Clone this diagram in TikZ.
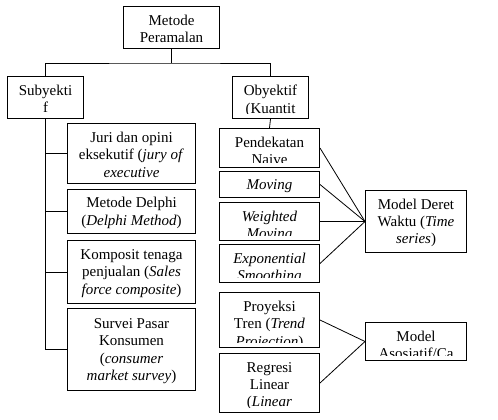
\documentclass[tikz,border=0pt]{standalone}
\usepackage{fontspec}
\setmainfont{Liberation Serif}
\usetikzlibrary{calc}
\tikzset{
 box/.style={draw, line width=1pt, inner sep=0pt, anchor=north west},
 txt/.style={align=center, inner sep=0pt, font=\fontsize{15}{17.3}\selectfont},
 conn/.style={line width=0.8pt},
}
\newcommand{\mkbox}[5]{\node[box, minimum width={(#4)-(#2)}, minimum height={(#5)-(#3)}] (#1) at (#2,#3) {};}
\newcommand{\ctext}[2]{\node[txt] at ([yshift=-1.5pt]#1.center) {#2};}
\newcommand{\ttext}[2]{\begin{scope}\clip ([xshift=1pt,yshift=6pt]#1.south west) rectangle ([xshift=-1pt,yshift=-1pt]#1.north east); \node[txt,anchor=north] at ([yshift=-9pt]#1.north) {#2};\end{scope}}
\begin{document}
\begin{tikzpicture}[x=1pt,y=-1pt]
\useasboundingbox (0,0) rectangle (498,420);
% boxes
\mkbox{top}{123}{6}{219}{48}
\ctext{top}{Metode\\Peramalan}
\mkbox{sub}{7}{76}{83}{118}
\ctext{sub}{Subyekti\\f}
\mkbox{oby}{232}{76}{308}{118}
\ttext{oby}{Obyektif\\(Kuantit}
% subjective
\mkbox{juri}{67}{123}{195}{183}
\ttext{juri}{Juri dan opini\\eksekutif (\textit{jury of}\\\textit{executive}}
\mkbox{delphi}{67}{189}{195}{233}
\ctext{delphi}{Metode Delphi\\(\textit{Delphi Method})}
\mkbox{komp}{67}{240}{195}{303}
\ctext{komp}{Komposit tenaga\\penjualan (\textit{Sales}\\\textit{force composite})}
\mkbox{surv}{67}{308}{195}{390}
\ctext{surv}{Survei Pasar\\Konsumen\\(\textit{consumer}\\\textit{market survey})}
% objective
\mkbox{pend}{219}{128}{319}{167}
\ttext{pend}{Pendekatan\\Naive}
\mkbox{mov}{219}{171}{319}{197}
\ctext{mov}{\textit{Moving}}
\mkbox{wmov}{219}{202}{319}{240}
\ttext{wmov}{\textit{Weighted}\\\textit{Moving}}
\mkbox{expo}{219}{244}{319}{282}
\ttext{expo}{\textit{Exponential}\\\textit{Smoothing}}
\mkbox{proy}{219}{292}{319}{347}
\ttext{proy}{Proyeksi\\Tren (\textit{Trend}\\\textit{Projection})}
\mkbox{regr}{219}{353}{319}{412}
\ttext{regr}{Regresi\\Linear\\(\textit{Linear}}
\mkbox{mdw}{365}{190}{466}{252}
\ctext{mdw}{Model Deret\\Waktu (\textit{Time}\\\textit{series})}
\mkbox{mas}{365}{322}{466}{360}
\ttext{mas}{Model\\Asosiatif/Ca}
% connectors
\coordinate (j) at ($(top.south)+(0,14)$);
\draw[conn] (top.south) -- (j);
\draw[conn] (sub.north) |- (j) -| (oby.north);
\draw[conn] (sub.south) |- (juri.west);
\draw[conn] (sub.south) |- (delphi.west);
\draw[conn] (sub.south) |- (komp.west);
\draw[conn] (sub.south) |- (surv.west);
\draw[conn] (oby.south) -- (pend.north);
\draw[conn] (pend.east) -- (mdw.west);
\draw[conn] (mov.east) -- (mdw.west);
\draw[conn] (wmov.east) -- (mdw.west);
\draw[conn] (expo.east) -- (mdw.west);
\draw[conn] (proy.east) -- (mas.west);
\draw[conn] (regr.east) -- (mas.west);
\end{tikzpicture}
\end{document}
